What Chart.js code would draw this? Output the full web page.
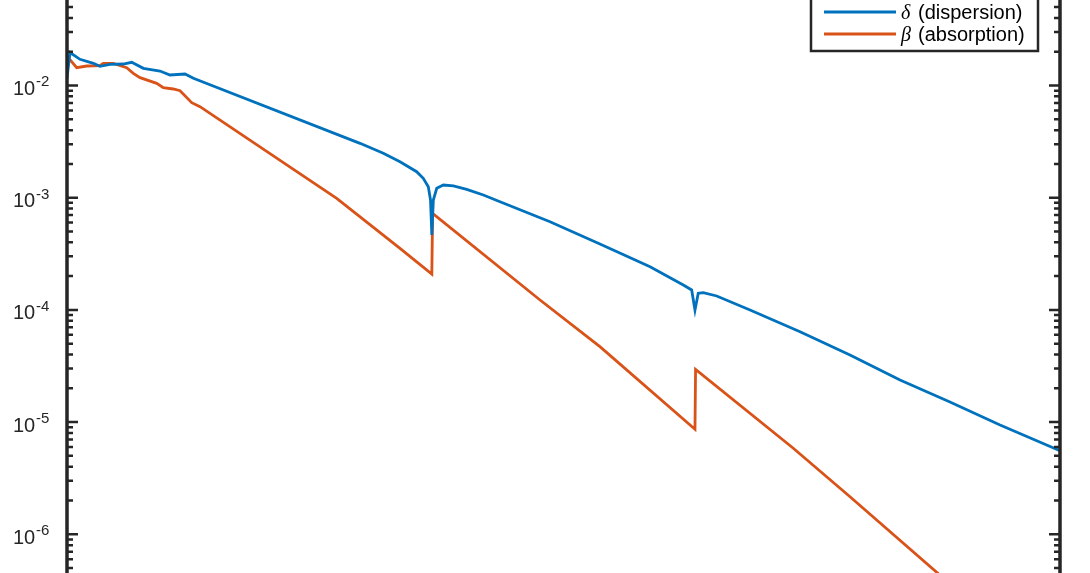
<!DOCTYPE html>
<html>
<head>
<meta charset="utf-8">
<script src="https://cdn.jsdelivr.net/npm/chart.js@4/dist/chart.umd.min.js"></script>
<style>
html,body{margin:0;padding:0;background:#fff;overflow:hidden;}
#wrap{position:relative;width:1090px;height:573px;}
</style>
</head>
<body>
<div id="wrap"><canvas id="c" width="1090" height="573"></canvas></div>
<script>
// Photon energy (eV) and delta (dispersion) values
const deltaEnergy = [100, 101.4, 106.2, 113.0, 116.5, 122.0, 129.8, 135.0, 142.5, 153.9, 161.2, 172.9, 179.7, 389.2, 433.6, 468.5, 506.1, 521.9, 534.2, 539.7, 543.0, 546.8, 555.5, 572.8, 600.1, 638.3, 689.6, 745.0, 939.3, 1184, 1494, 1743, 1812, 1840, 1868, 1912, 2035, 2375, 2995, 3776, 4762, 6003, 7573, 10000];
const deltaValues = [1.166e-2, 1.968e-2, 1.712e-2, 1.577e-2, 1.483e-2, 1.545e-2, 1.554e-2, 1.610e-2, 1.423e-2, 1.346e-2, 1.240e-2, 1.266e-2, 1.159e-2, 3.052e-3, 2.487e-3, 2.094e-3, 1.705e-3, 1.489e-3, 1.253e-3, 9.539e-4, 4.652e-4, 9.539e-4, 1.213e-3, 1.298e-3, 1.272e-3, 1.188e-3, 1.057e-3, 9.211e-4, 6.109e-4, 3.867e-4, 2.427e-4, 1.667e-4, 1.505e-4, 9.98e-5, 1.406e-4, 1.423e-4, 1.330e-4, 9.98e-5, 6.392e-5, 3.963e-5, 2.372e-5, 1.510e-5, 9.423e-6, 5.561e-6];

// Photon energy (eV) and beta (absorption) values
const betaEnergy = [100, 104.6, 109.6, 116.5, 118.3, 124.0, 131.9, 136.0, 140.3, 151.6, 156.3, 163.7, 168.9, 178.3, 185.3, 349.3, 468.5, 543.0, 545.0, 896.9, 1184, 1840, 1845, 2903, 3776, 5645, 5866];
const betaValues = [1.831e-2, 1.441e-2, 1.492e-2, 1.501e-2, 1.577e-2, 1.577e-2, 1.441e-2, 1.284e-2, 1.174e-2, 1.046e-2, 9.559e-3, 9.307e-3, 8.989e-3, 7.027e-3, 6.473e-3, 9.879e-4, 3.540e-4, 2.089e-4, 7.261e-4, 1.225e-4, 4.698e-5, 8.627e-6, 2.955e-5, 5.842e-6, 2.163e-6, 4.585e-7, 3.955e-7];

// Axis ranges and tick labels
const energyRange = [100, 10000];
const valueRange = [Math.pow(10, -6.345), Math.pow(10, -1.238)];
const yTickValues = [1e-2, 1e-3, 1e-4, 1e-5, 1e-6];
const yTickBase = '10';
const yTickExponents = ['-2', '-3', '-4', '-5', '-6'];

// Legend
const seriesSymbols = ['δ', 'β'];
const seriesNames = ['(dispersion)', '(absorption)'];
const seriesColors = ['#0072BD', '#D95319'];

function toPoints(xs, ys) { return xs.map((x, i) => ({x: x, y: ys[i]})); }

const AXIS = '#262626';

const framePlugin = {
  id: 'frame',
  afterDatasetsDraw(chart) {
    const ctx = chart.ctx, a = chart.chartArea, y = chart.scales.y;
    ctx.save();
    ctx.strokeStyle = AXIS;
    ctx.lineWidth = 2.5;
    ctx.beginPath();
    for (let e = -8; e <= 0; e++) {
      for (let m = 1; m <= 9; m++) {
        const v = m * Math.pow(10, e);
        if (v < y.min || v > y.max) continue;
        const py = y.getPixelForValue(v);
        const len = (m === 1) ? 11 : 6;
        ctx.moveTo(a.left, py); ctx.lineTo(a.left + len, py);
        ctx.moveTo(a.right, py); ctx.lineTo(a.right - len, py);
      }
    }
    ctx.stroke();
    ctx.lineWidth = 3.5;
    ctx.beginPath();
    ctx.moveTo(a.left, -5); ctx.lineTo(a.left, chart.height + 5);
    ctx.moveTo(a.right, -5); ctx.lineTo(a.right, chart.height + 5);
    ctx.stroke();
    ctx.fillStyle = AXIS;
    ctx.textAlign = 'left';
    ctx.textBaseline = 'alphabetic';
    yTickValues.forEach((v, i) => {
      const py = y.getPixelForValue(v);
      ctx.font = '20px "Liberation Sans", Arial, sans-serif';
      ctx.fillText(yTickBase, 13, py + 9.5);
      ctx.font = '15px "Liberation Sans", Arial, sans-serif';
      ctx.fillText(yTickExponents[i], 36, py + 1);
    });
    ctx.fillStyle = '#fff';
    ctx.fillRect(811, -10, 227, 61);
    ctx.strokeStyle = AXIS;
    ctx.lineWidth = 2.5;
    ctx.strokeRect(811, -10, 227, 61);
    const rows = [12, 34];
    rows.forEach((ry, i) => {
      ctx.strokeStyle = seriesColors[i];
      ctx.lineWidth = 3;
      ctx.beginPath(); ctx.moveTo(824, ry); ctx.lineTo(896, ry); ctx.stroke();
      ctx.fillStyle = '#000';
      ctx.font = 'italic 20px "Liberation Serif", serif';
      ctx.fillText(seriesSymbols[i], 901, ry + 6.5);
      ctx.font = '20px "Liberation Sans", Arial, sans-serif';
      ctx.fillText(seriesNames[i], 918, ry + 6.5);
    });
    ctx.restore();
  }
};

new Chart(document.getElementById('c'), {
  type: 'line',
  data: {
    datasets: [
      { label: 'δ (dispersion)', data: toPoints(deltaEnergy, deltaValues), borderColor: seriesColors[0], borderWidth: 2.8, pointRadius: 0, tension: 0, fill: false },
      { label: 'β (absorption)', data: toPoints(betaEnergy, betaValues), borderColor: seriesColors[1], borderWidth: 2.8, pointRadius: 0, tension: 0, fill: false }
    ]
  },
  options: {
    responsive: false,
    animation: false,
    devicePixelRatio: 1,
    layout: { padding: { left: 67, right: 30, top: 0, bottom: 0 } },
    scales: {
      x: { type: 'logarithmic', min: energyRange[0], max: energyRange[1], display: false },
      y: { type: 'logarithmic', min: valueRange[0], max: valueRange[1], display: false }
    },
    plugins: { legend: { display: false }, tooltip: { enabled: false }, title: { display: false } },
    events: []
  },
  plugins: [framePlugin]
});
</script>
</body>
</html>
